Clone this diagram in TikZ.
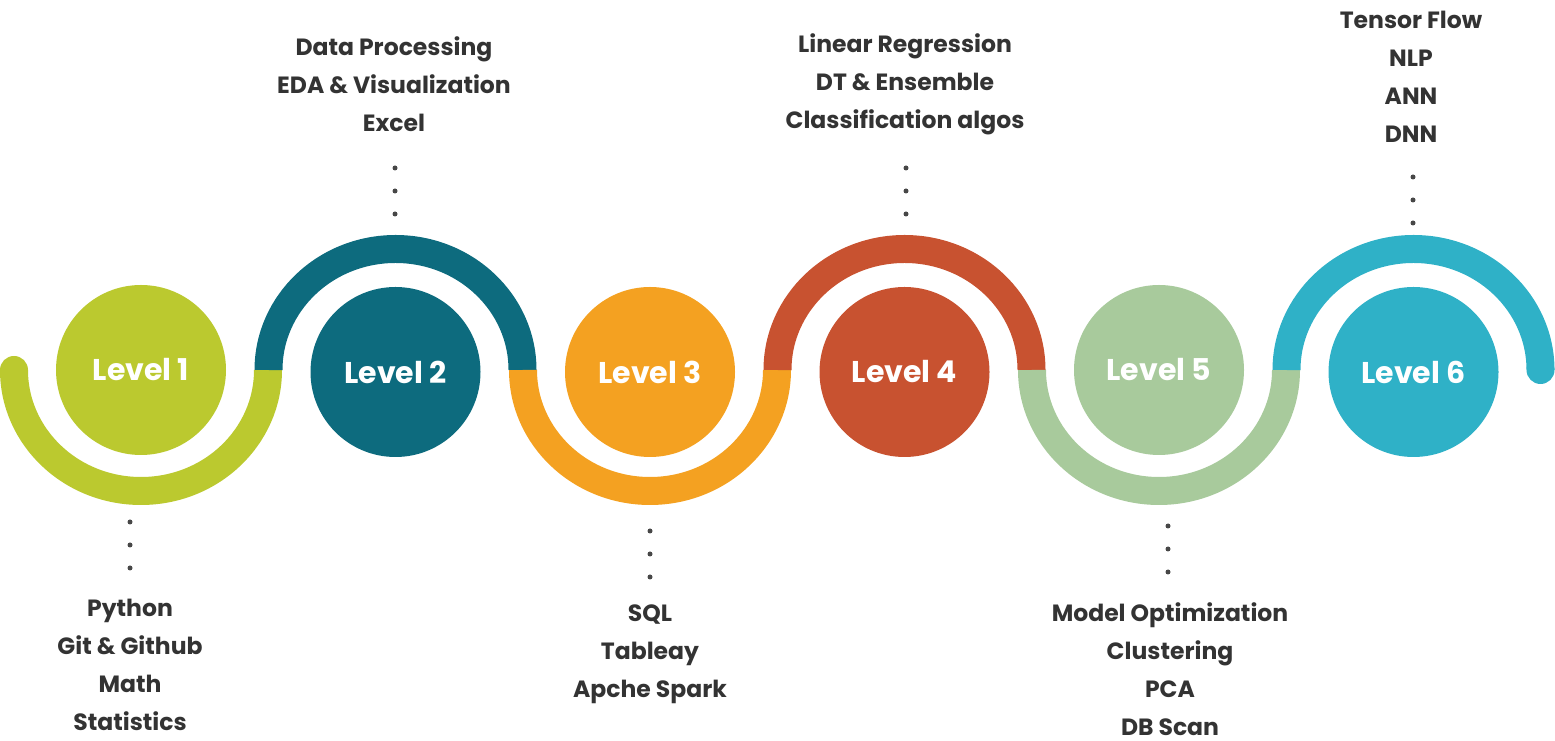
\documentclass[tikz,border=0pt]{standalone}
\usepackage{fontspec}
\setmainfont{Poppins}
\definecolor{cA}{HTML}{BBC92F}
\definecolor{cB}{HTML}{0D6B7E}
\definecolor{cC}{HTML}{F4A121}
\definecolor{cD}{HTML}{C85230}
\definecolor{cE}{HTML}{A8CA9C}
\definecolor{cF}{HTML}{2FB1C7}
\definecolor{txt}{HTML}{333333}
\begin{document}
\begin{tikzpicture}[x=1pt,y=1pt,
  lvl/.style={circle,minimum size=170pt,inner sep=0pt,text=white,font=\fontsize{30}{34}\selectfont\bfseries},
  band/.style={line width=28pt},
  dot/.style={circle,fill=txt!90,minimum size=5pt,inner sep=0pt},
  lst/.style={align=center,text=txt,font=\fontsize{23.5}{38}\selectfont\bfseries}]
\useasboundingbox (0,0) rectangle (1555,741);
% arcs
\draw[band,cA] (14,371) arc[start angle=180,end angle=360,x radius=127,y radius=121];
\draw[band,cB] (268.5,371) arc[start angle=180,end angle=0,x radius=127,y radius=121];
\draw[band,cC] (523,371) arc[start angle=180,end angle=360,x radius=127,y radius=121];
\draw[band,cD] (777.5,371) arc[start angle=180,end angle=0,x radius=127,y radius=121];
\draw[band,cE] (1032,371) arc[start angle=180,end angle=360,x radius=127,y radius=121];
\draw[band,cF] (1286.5,371) arc[start angle=180,end angle=0,x radius=127,y radius=121];
\fill[cA] (14,371) circle (14);
\fill[cF] (1540.5,371) circle (14);
% circles
\node[lvl,fill=cA] (l1) at (141,371) {Level 1};
\node[lvl,fill=cB] (l2) at (395.5,369) {Level 2};
\node[lvl,fill=cC] (l3) at (650,369) {Level 3};
\node[lvl,fill=cD] (l4) at (904.5,369) {Level 4};
\node[lvl,fill=cE] (l5) at (1159,371) {Level 5};
\node[lvl,fill=cF] (l6) at (1413.5,369) {Level 6};
% dots
\foreach \x/\y [count=\i] in {130/219,395/573,650/210,906/573,1168/215,1413/564}{
  \node[dot] (d\i a) at (\x,\y) {};
  \node[dot] (d\i b) at (\x,\y-23) {};
  \node[dot] (d\i c) at (\x,\y-46) {};
}
% texts
\node[lst] (t1) at (130,76) {Python\\Git \& Github\\Math\\Statistics};
\node[lst] (t2) at (394,657) {Data Processing\\EDA \& Visualization\\Excel};
\node[lst] (t3) at (650,87) {SQL\\Tableay\\Apche Spark};
\node[lst] (t4) at (905,657) {Linear Regression\\DT \& Ensemble\\Classification algos};
\node[lst] (t5) at (1170,72) {Model Optimization\\Clustering\\PCA\\DB Scan};
\node[lst] (t6) at (1411,664) {Tensor Flow\\NLP\\ANN\\DNN};
\end{tikzpicture}
\end{document}
